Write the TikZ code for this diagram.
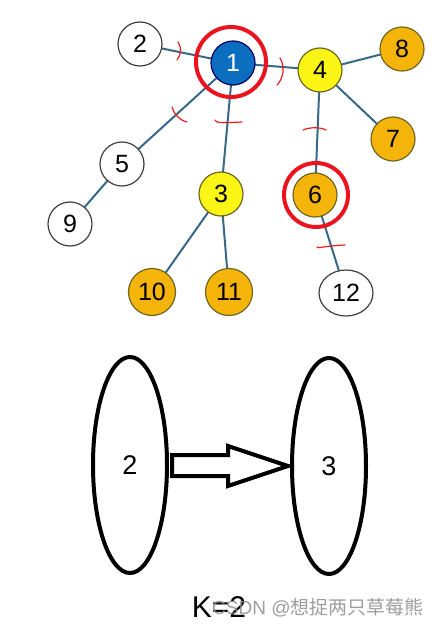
\documentclass[tikz,border=0pt]{standalone}
\usepackage{fontspec}
\setmainfont{Liberation Sans}
\newfontfamily\cjk{Noto Sans CJK SC}
\usetikzlibrary{shapes.geometric}
\begin{document}
\begin{tikzpicture}[x=1pt,y=-1pt,
  vtx/.style={circle,draw=#1,line width=1.2pt,minimum size=44pt,inner sep=0pt,font=\fontsize{25}{25}\selectfont},
  whitev/.style={vtx=black!75,fill=white},
  bluev/.style={vtx=blue!40!black,fill={rgb,255:red,12;green,110;blue,190},text=white},
  yelv/.style={vtx=olive!70!black,fill={rgb,255:red,250;green,245;blue,20}},
  orav/.style={vtx=olive!70!black,fill={rgb,255:red,245;green,180;blue,10}},
  edge/.style={draw={rgb,255:red,55;green,105;blue,135},line width=2pt},
  redring/.style={draw={rgb,255:red,235;green,20;blue,30},line width=4pt},
  redmark/.style={draw={rgb,255:red,235;green,30;blue,30},line width=1.2pt,line cap=round},
  oval/.style={ellipse,draw=black,line width=4pt,minimum width=74pt,minimum height=216pt,inner sep=0pt,font=\fontsize{27}{27}\selectfont}
]
\useasboundingbox[fill=white] (0,0) rectangle (437,631);
% edges first
\coordinate (p2) at (140,44);
\coordinate (p1) at (233,63);
\coordinate (p4) at (320,70);
\coordinate (p8) at (402,49);
\coordinate (p7) at (393,139);
\coordinate (p5) at (122,164);
\coordinate (p9) at (70,224);
\coordinate (p3) at (221,194);
\coordinate (p10) at (152,292);
\coordinate (p11) at (229,292);
\coordinate (p6) at (315,195);
\coordinate (p12) at (346,293);
\foreach \a/\b in {p2/p1,p1/p4,p1/p5,p1/p3,p4/p8,p4/p7,p4/p6,p5/p9,p3/p10,p3/p11,p6/p12}
  \draw[edge] (\a) -- (\b);
% vertices
\node[whitev] (n2) at (p2) {2};
\node[bluev] (n1) at (p1) {1};
\node[yelv] (n4) at (p4) {4};
\node[orav] (n8) at (p8) {8};
\node[orav] (n7) at (p7) {7};
\node[whitev] (n5) at (p5) {5};
\node[whitev] (n9) at (p9) {9};
\node[yelv] (n3) at (p3) {3};
\node[orav,minimum size=47pt] (n10) at (p10) {10};
\node[orav,minimum size=47pt] (n11) at (p11) {11};
\node[orav] (n6) at (p6) {6};
\node[whitev,ellipse,minimum width=54pt,minimum height=46pt] (n12) at (p12) {12};
% red rings
\node[redring,circle,minimum size=70pt,inner sep=0pt] (r1) at (231,62) {};
\node[redring,circle,minimum size=64pt,inner sep=0pt] (r6) at (316,195) {};
% red cut marks
\draw[redmark] (178,42) .. controls (182,48) and (181,55) .. (177,60);
\draw[redmark] (280,58) .. controls (285,66) and (284,78) .. (277,85);
\draw[redmark] (172,107) .. controls (174,114) and (179,120) .. (187,122);
\draw[redmark] (215,120) .. controls (216,123) and (220,123) .. (242,122);
\draw[redmark] (303,130) .. controls (310,127) and (320,127) .. (326,130);
\draw[redmark] (317,247) .. controls (318,249) and (322,246) .. (345,245);
% bottom part
\node[oval] (L) at (130,465) {2};
\node[oval] (R) at (329,466) {3};
\draw[line width=4pt,line join=miter,fill=white]
  (172,455) -- (228,455) -- (228,446) -- (288,466) -- (228,486) -- (228,476) -- (172,476) -- cycle;
\node[font=\fontsize{30}{30}\selectfont,inner sep=0pt] (k) at (219,607) {K=2};
\node[font=\fontsize{19}{19}\selectfont,text=black!45,opacity=0.85,inner sep=0pt,anchor=west] (wm) at (212,608) {CSDN @{\cjk 想捉两只草莓熊}};
\end{tikzpicture}
\end{document}
